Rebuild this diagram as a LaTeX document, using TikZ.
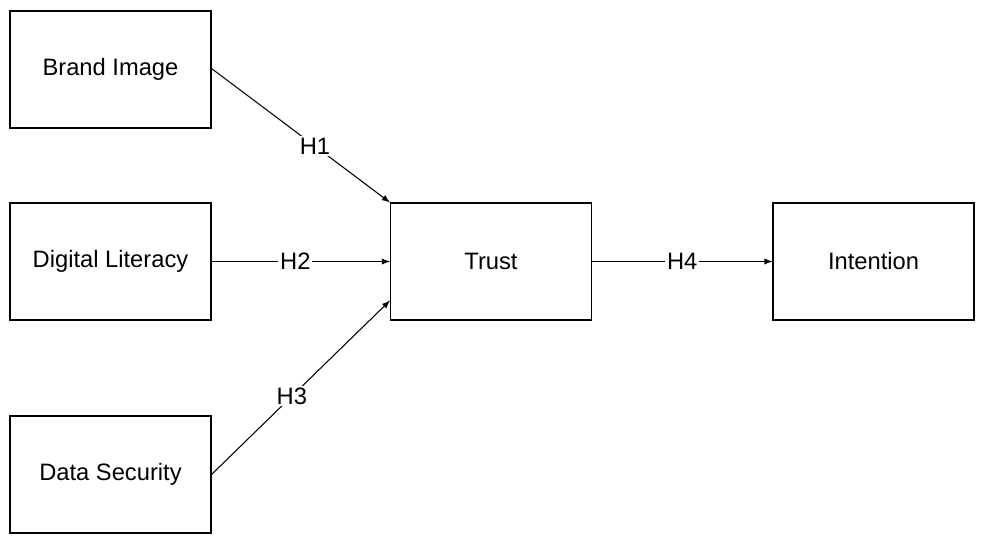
\documentclass[tikz,border=0pt]{standalone}
\usepackage{fontspec}
\setmainfont{Liberation Sans}
\usetikzlibrary{calc}
\tikzset{every picture/.style={line width=0.6pt},
	box/.style={draw,minimum width=4.02cm,minimum height=2.34cm,font=\fontsize{13.5}{16}\selectfont},
	hyp/.style={fill=white,inner sep=1pt,font=\fontsize{13.5}{16}\selectfont}}
\begin{document}
\begin{tikzpicture}[>=latex]
		\useasboundingbox (0,0) rectangle (19.72,11.02);

		\node[box] (brand) at (2.21,9.63) {Brand Image};
		\node[box] (digital) at (2.21,5.79) {Digital Literacy};
		\node[box] (security) at (2.21,1.53) {Data Security};
		\node[box] (trust) at (9.82,5.79) {Trust};
		\node[box] (intention) at (17.47,5.79) {Intention};

		\coordinate (b1) at ($(brand.north east)!0.5!(brand.south east)+(0,0.02)$);
		\coordinate (t3) at ($(trust.south west)+(0,0.4)$);
		\draw[->] (b1) -- (trust.north west) node[hyp,pos=0.58] {H1};
		\draw[->] (digital) -- (trust) node[hyp,pos=0.47] {H2};
		\draw[->] (security.east) -- (t3) node[hyp,pos=0.45] {H3};
		\draw[->] (trust) -- (intention) node[hyp,pos=0.5] {H4};
	\end{tikzpicture}
\end{document}
